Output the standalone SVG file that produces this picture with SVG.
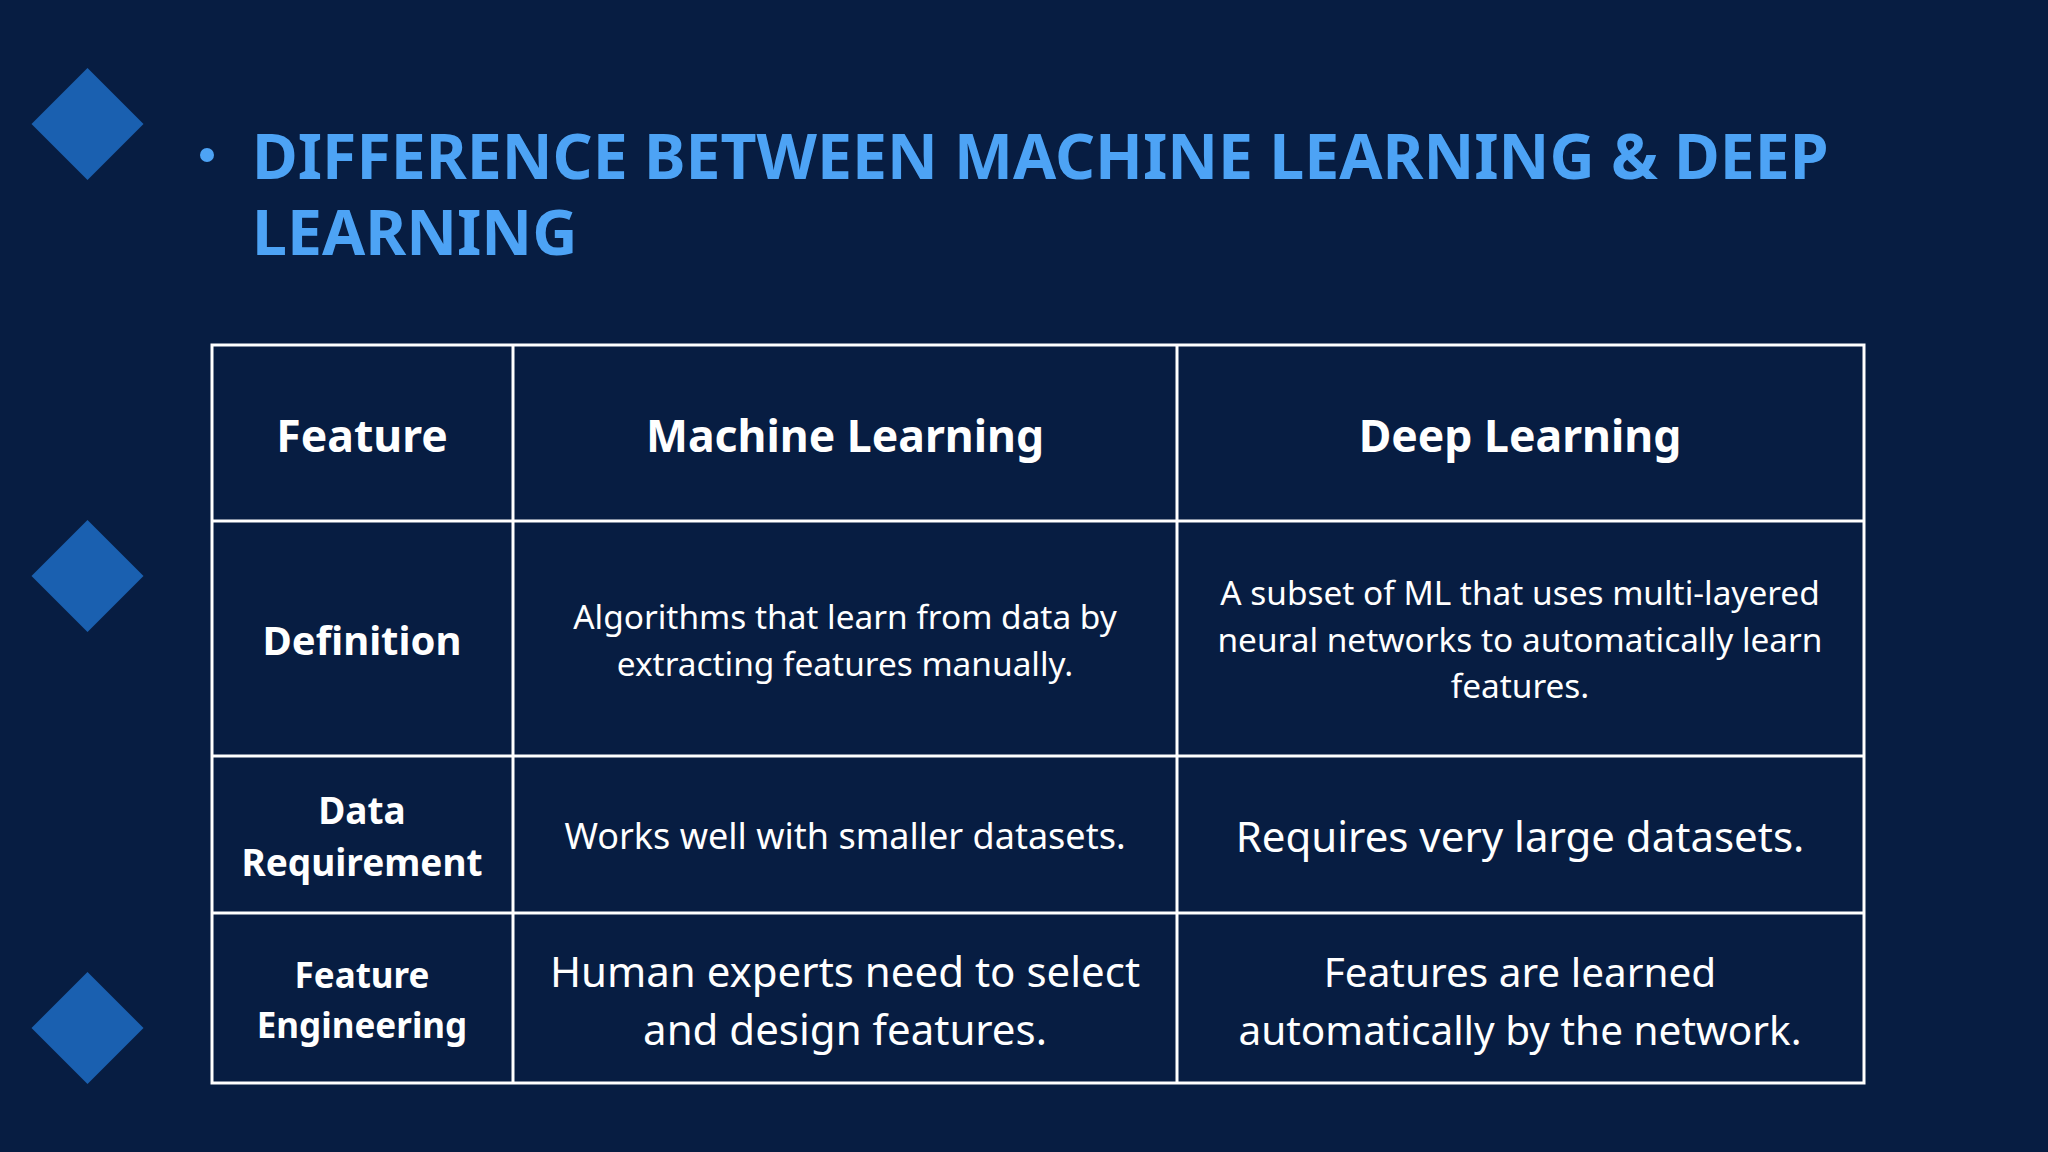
<svg xmlns="http://www.w3.org/2000/svg" width="2048" height="1152" viewBox="0 0 2048 1152">
<style>
.t{font-family:"Noto Sans","Open Sans",sans-serif;fill:#fff;text-anchor:middle}
.b{font-weight:bold}
.ln{stroke:#fff;stroke-width:3;fill:none}
.d{fill:#1a60b0}
</style>
<rect width="2048" height="1152" fill="#071d42"/>
<g id="decor">
<polygon class="d" points="87.5,68 143.5,124 87.5,180 31.5,124"/>
<polygon class="d" points="87.5,520 143.5,576 87.5,632 31.5,576"/>
<polygon class="d" points="87.5,972 143.5,1028 87.5,1084 31.5,1028"/>
</g>
<g id="title" font-family="Noto Sans,Open Sans,sans-serif" font-weight="bold" font-size="62.5" fill="#4da3f5">
<circle cx="207" cy="155" r="7"/>
<text x="252" y="179">DIFFERENCE BETWEEN MACHINE LEARNING &amp; DEEP</text>
<text x="252" y="255">LEARNING</text>
</g>
<g id="connectors">
<rect class="ln" x="212" y="345" width="1652" height="738"/>
<line class="ln" x1="513" y1="345" x2="513" y2="1083"/>
<line class="ln" x1="1177" y1="345" x2="1177" y2="1083"/>
<line class="ln" x1="212" y1="521" x2="1864" y2="521"/>
<line class="ln" x1="212" y1="756" x2="1864" y2="756"/>
<line class="ln" x1="212" y1="913" x2="1864" y2="913"/>
</g>
<g id="header">
<text class="t b" x="362" y="452" font-size="44.5">Feature</text>
<text class="t b" x="845" y="452" font-size="44.5">Machine Learning</text>
<text class="t b" x="1520" y="452" font-size="44.5">Deep Learning</text>
</g>
<g id="row-definition">
<text class="t b" x="362" y="655" font-size="40">Definition</text>
<text class="t" x="845" y="629" font-size="33.4">Algorithms that learn from data by</text>
<text class="t" x="845" y="676" font-size="33.4">extracting features manually.</text>
<text class="t" x="1520" y="605" font-size="33.4">A subset of ML that uses multi-layered</text>
<text class="t" x="1520" y="652" font-size="33.4">neural networks to automatically learn</text>
<text class="t" x="1520" y="698" font-size="33.4">features.</text>
</g>
<g id="row-data">
<text class="t b" x="362" y="824" font-size="37">Data</text>
<text class="t b" x="362" y="876" font-size="37">Requirement</text>
<text class="t" x="845" y="849" font-size="36">Works well with smaller datasets.</text>
<text class="t" x="1520" y="852" font-size="42">Requires very large datasets.</text>
</g>
<g id="row-feature-engineering">
<text class="t b" x="362" y="988" font-size="35">Feature</text>
<text class="t b" x="362" y="1038" font-size="35">Engineering</text>
<text class="t" x="845" y="987" font-size="42">Human experts need to select</text>
<text class="t" x="845" y="1045" font-size="42">and design features.</text>
<text class="t" x="1520" y="987" font-size="40.5">Features are learned</text>
<text class="t" x="1520" y="1045" font-size="40.5">automatically by the network.</text>
</g>
</svg>
